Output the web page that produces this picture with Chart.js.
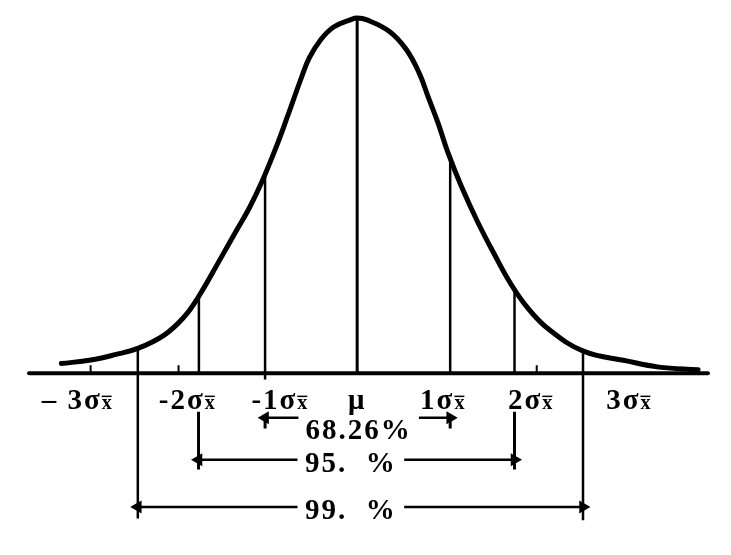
<!DOCTYPE html>
<html>
<head>
<meta charset="utf-8">
<script src="https://cdn.jsdelivr.net/npm/chart.js@4"></script>
<style>
  html, body { margin: 0; padding: 0; background: #fff; }
  canvas { display: block; }
</style>
</head>
<body>
<canvas id="c" width="731" height="555"></canvas>
<script>
// normal curve as drawn in the scan (x in sigma units, y = density)
const curveX = [-3.196, -2.878, -2.614, -2.370, -2.085, -1.873, -1.714, -1.481, -1.312, -1.164, -1.026,
  -0.868, -0.741, -0.603, -0.519, -0.392, -0.254, -0.074, 0, 0.106, 0.349, 0.529, 0.667, 0.772, 0.878,
  0.984, 1.122, 1.302, 1.481, 1.651, 1.831, 2.063, 2.444, 2.910, 3.259, 3.683];
const curveY = [0.011, 0.015, 0.021, 0.028, 0.043, 0.063, 0.086, 0.128, 0.159, 0.186, 0.216,
  0.256, 0.292, 0.332, 0.354, 0.375, 0.389, 0.397, 0.399, 0.397, 0.384, 0.364, 0.338, 0.309, 0.280,
  0.247, 0.211, 0.170, 0.134, 0.102, 0.075, 0.050, 0.025, 0.014, 0.007, 0.004];

// axis extent
const axisFrom = -3.545;
const axisTo = 3.79;

// vertical lines at -3..3 sigma
const markerX = [-2.37, -1.71, -0.995, 0, 1.005, 1.70, 2.44];
const markerTop = [0.028, 0.086, 0.222, 0.399, 0.238, 0.096, 0.025];
const markerBottom = [-0.163, 0, -0.007, 0, 0, 0, -0.165];

// small tick marks on the axis
const minorTicks = [-2.88, -1.93, 1.94];
const minorTickHeight = 0.009;

// tick labels under the axis
const tickLabels = ["\u2013 3\u03c3", "-2\u03c3", "-1\u03c3", "\u03bc", "1\u03c3", "2\u03c3", "3\u03c3"];
const tickHasSub = [true, true, true, false, true, true, true];
const tickPos = [-3.02, -1.83, -0.83, 0, 0.93, 1.88, 2.94];

// brackets: 68.26 / 95 / 99 percent
const bracketText = ["68.26%", "95.  %", "99.  %"];
const bracketLevel = [-0.050, -0.097, -0.150];
const bracketFrom = [-0.995, -1.714, -2.37];
const bracketTo = [1.005, 1.70, 2.44];
const bracketGapFrom = [-0.635, -0.645, -0.645];
const bracketGapTo = [0.667, 0.508, 0.508];
const bracketTickTop = [-0.046, -0.043, null];
const bracketTickBottom = [-0.062, -0.108, null];

const ink = "#000";

function seg(x1, y1, x2, y2, width, extra) {
  return Object.assign({
    data: [{ x: x1, y: y1 }, { x: x2, y: y2 }],
    showLine: true,
    borderColor: ink,
    backgroundColor: ink,
    borderWidth: width,
    pointRadius: 0,
    tension: 0,
  }, extra || {});
}

const datasets = [];

// axis
datasets.push(seg(axisFrom, 0, axisTo, 0, 4, { borderCapStyle: "round" }));

// curve
datasets.push({
  data: curveX.map((x, i) => ({ x, y: curveY[i] })),
  showLine: true,
  borderColor: ink,
  borderWidth: 5,
  pointRadius: 0,
  tension: 0.4,
  borderCapStyle: "round",
  borderJoinStyle: "round",
});

// verticals
markerX.forEach((x, i) => {
  datasets.push(seg(x, markerBottom[i], x, markerTop[i], i === 3 ? 3 : 2.5));
});

minorTicks.forEach(x => datasets.push(seg(x, 0, x, minorTickHeight, 2)));

// brackets
bracketText.forEach((t, i) => {
  const lv = bracketLevel[i];
  datasets.push(seg(bracketFrom[i], lv, bracketGapFrom[i], lv, 2.5, {
    pointRadius: [5, 0], pointStyle: "triangle", pointRotation: [-90, 0],
  }));
  datasets.push(seg(bracketGapTo[i], lv, bracketTo[i], lv, 2.5, {
    pointRadius: [0, 5], pointStyle: "triangle", pointRotation: [0, 90],
  }));
  if (bracketTickTop[i] !== null) {
    datasets.push(seg(bracketFrom[i], bracketTickTop[i], bracketFrom[i], bracketTickBottom[i], 3));
    datasets.push(seg(bracketTo[i], bracketTickTop[i], bracketTo[i], bracketTickBottom[i], 3));
  }
});

const textPlugin = {
  id: "texts",
  afterDatasetsDraw(chart) {
    const ctx = chart.ctx;
    const xs = chart.scales.x;
    const ys = chart.scales.y;
    ctx.save();
    ctx.fillStyle = ink;
    ctx.strokeStyle = ink;
    ctx.textBaseline = "alphabetic";
    ctx.textAlign = "left";
    ctx.letterSpacing = "2px";

    const mainFont = "bold 29px 'Liberation Serif'";
    const subFont = "bold 20px 'Liberation Serif'";
    const base = ys.getPixelForValue(0) + 36;

    tickLabels.forEach((t, i) => {
      ctx.font = mainFont;
      const w1 = ctx.measureText(t).width;
      ctx.font = subFont;
      const w2 = tickHasSub[i] ? ctx.measureText("x").width : 0;
      const cx = xs.getPixelForValue(tickPos[i]);
      let x0 = cx - (w1 + w2) / 2;
      ctx.font = mainFont;
      ctx.fillText(t, x0, base);
      if (tickHasSub[i]) {
        const sx = x0 + w1;
        ctx.font = subFont;
        ctx.fillText("x", sx, base);
        ctx.lineWidth = 1.5;
        ctx.beginPath();
        ctx.moveTo(sx, base - 13);
        ctx.lineTo(sx + w2 - 2, base - 13);
        ctx.stroke();
      }
    });

    ctx.font = "bold 29px 'Liberation Serif'";
    ctx.textAlign = "center";
    const offsets = [21, 12, 12];
    bracketText.forEach((t, i) => {
      const cx = (xs.getPixelForValue(bracketGapFrom[i]) + xs.getPixelForValue(bracketGapTo[i])) / 2;
      ctx.fillText(t, cx, ys.getPixelForValue(bracketLevel[i]) + offsets[i]);
    });
    ctx.restore();
  }
};

new Chart(document.getElementById("c").getContext("2d"), {
  type: "scatter",
  data: { datasets },
  options: {
    responsive: false,
    animation: false,
    devicePixelRatio: 1,
    layout: { padding: 0 },
    plugins: { legend: { display: false }, tooltip: { enabled: false } },
    scales: {
      x: { type: "linear", min: -3.778, max: 3.958, display: false },
      y: { type: "linear", min: -0.1956, max: 0.4109, display: false },
    },
  },
  plugins: [textPlugin],
});
</script>
</body>
</html>
